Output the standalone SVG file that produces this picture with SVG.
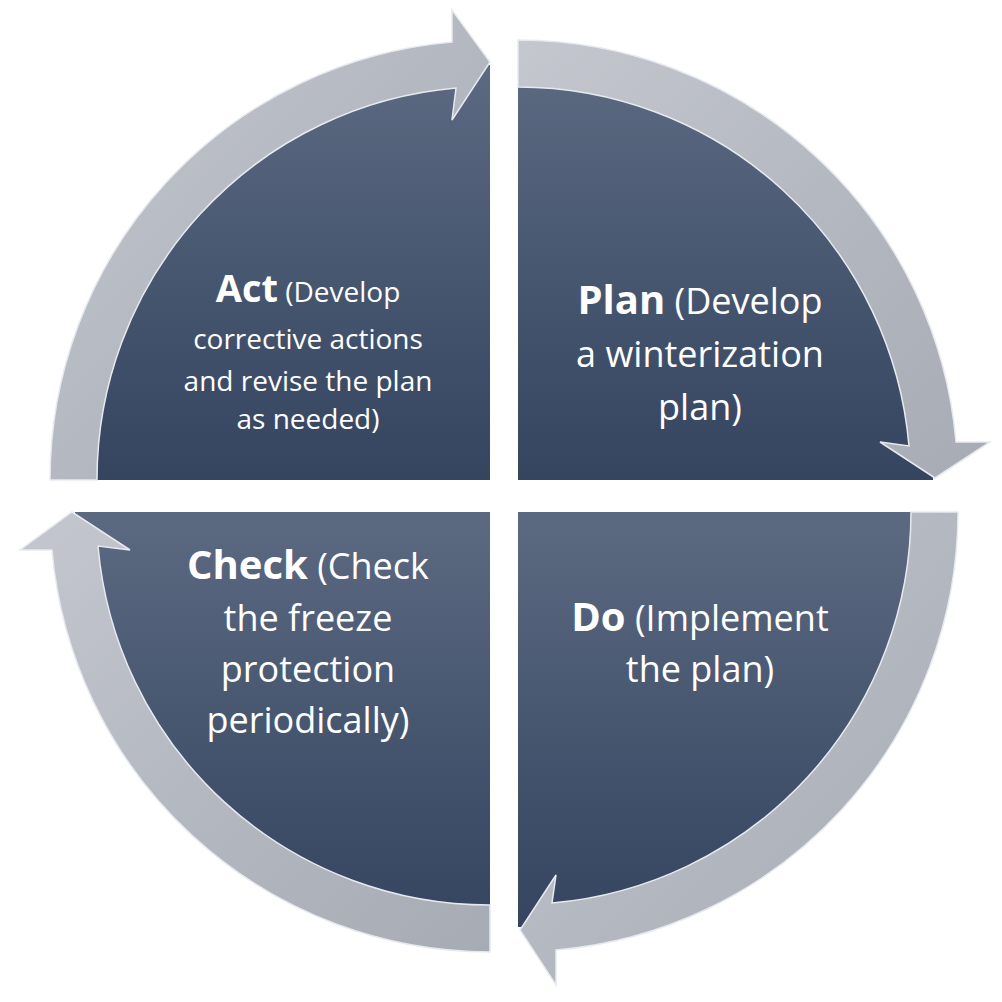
<svg xmlns="http://www.w3.org/2000/svg" width="1002" height="1002" viewBox="0 0 1002 1002">
<defs>
<linearGradient id="g" x1="0" y1="0" x2="0" y2="1"><stop offset="0" stop-color="#5b6a81"/><stop offset="1" stop-color="#35445f"/></linearGradient>
<linearGradient id="r" x1="0" y1="0" x2="1" y2="1"><stop offset="0" stop-color="#c4c7ce"/><stop offset="0.5" stop-color="#b4b8c0"/><stop offset="1" stop-color="#a7abb3"/></linearGradient>
</defs>
<style>
.q{fill:url(#g);}
.a{fill:url(#r);stroke:#e6eaf0;stroke-width:1.5;}
text{font-family:"Open Sans","Liberation Sans",sans-serif;fill:#fff;text-anchor:middle;}
.s{font-size:28px;}
.b{font-size:36px;}
.t{font-weight:bold;}
</style>
<g id="act">
<path class="q" d="M490,480 L75,480 A415,415 0 0 1 490,65 Z"/>
<text class="s" x="308" y="302"><tspan class="t" font-size="38">Act</tspan> (Develop</text>
<text class="s" x="308" y="349">corrective actions</text>
<text class="s" x="308" y="391">and revise the plan</text>
<text class="s" x="308" y="429">as needed)</text>
</g>
<g id="plan">
<path class="q" d="M518,480 L518,65 A415,415 0 0 1 933,480 Z"/>
<text class="b" x="700" y="314"><tspan class="t" font-size="40">Plan</tspan> (Develop</text>
<text class="b" x="700" y="367">a winterization</text>
<text class="b" x="700" y="420">plan)</text>
</g>
<g id="do">
<path class="q" d="M518,512 L933,512 A415,415 0 0 1 518,927 Z"/>
<text class="b" x="700" y="631"><tspan class="t" font-size="40">Do</tspan> (Implement</text>
<text class="b" x="700" y="682">the plan)</text>
</g>
<g id="check">
<path class="q" d="M490,512 L490,927 A415,415 0 0 1 75,512 Z"/>
<text class="b" x="308" y="579"><tspan class="t" font-size="40">Check</tspan> (Check</text>
<text class="b" x="308" y="631">the freeze</text>
<text class="b" x="308" y="682">protection</text>
<text class="b" x="308" y="733">periodically)</text>
</g>
<g id="connectors">
<path class="a" d="M50,480 A440,440 0 0 1 452,42 L452,10 L490,62 L452,120 L456,88 A393,393 0 0 0 97,480 Z"/>
<path class="a" d="M518,40 A440,440 0 0 1 956,442 L990,442 L935,478 L880,442 L909,446 A393,393 0 0 0 518,87 Z"/>
<path class="a" d="M958,512 A440,440 0 0 1 556,950 L556,985 L520,930 L556,875 L552,903 A393,393 0 0 0 911,512 Z"/>
<path class="a" d="M490,952 A440,440 0 0 1 52,550 L20,550 L72,512 L130,550 L98,546 A393,393 0 0 0 490,905 Z"/>
</g>
</svg>
